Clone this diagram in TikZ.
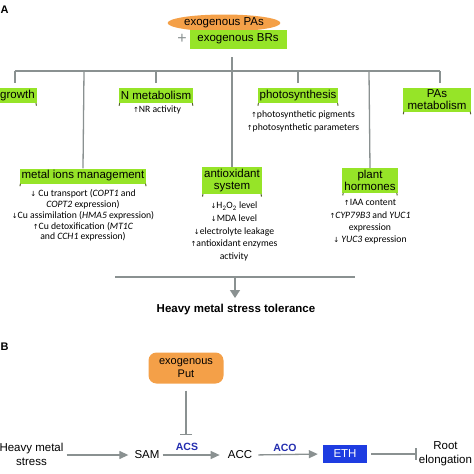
\documentclass[tikz,border=0pt]{standalone}
\usepackage{fontspec}
\setmainfont{Liberation Sans}
\newfontfamily\descfont{Carlito}
\newfontfamily\arrfont{DejaVu Sans}
\usetikzlibrary{arrows.meta,shapes.geometric}
\definecolor{lime}{RGB}{150,228,40}
\definecolor{orng}{RGB}{244,160,72}
\definecolor{lgray}{RGB}{138,145,145}
\definecolor{ethblue}{RGB}{30,60,225}
\definecolor{enzblue}{RGB}{35,45,175}
\definecolor{tickcol}{RGB}{85,95,45}
\newcommand{\upa}{{\arrfont\fontsize{7}{7}\selectfont ↑}}
\newcommand{\dna}{{\arrfont\fontsize{7}{7}\selectfont ↓}}
\tikzset{
  greenbox/.style={fill=lime, inner xsep=2pt, inner ysep=1.5pt, minimum height=15pt,
    font=\fontsize{11.5}{13}\selectfont, align=center},
  desc/.style={font=\descfont\fontsize{9.7}{11.5}\selectfont, align=center, inner sep=0pt},
  conn/.style={draw=lgray, line width=1.3pt},
  arr/.style={conn, -{Triangle[length=9pt,width=8pt]}},
  inh/.style={conn, -{Bar[width=12pt]}},
  btext/.style={font=\fontsize{11.5}{14}\selectfont, align=center, inner sep=0pt},
  enz/.style={font=\bfseries\fontsize{10.5}{12}\selectfont, text=enzblue, inner sep=0pt},
  panel/.style={font=\bfseries\fontsize{11}{12}\selectfont, inner sep=0pt, anchor=west},
  cornertick/.style={draw=tickcol, line width=1pt}
}
\begin{document}
\begin{tikzpicture}[x=1pt,y=-1pt]
\useasboundingbox (0,0) rectangle (474,474);
\begin{scope}
\clip (0,0) rectangle (474,474);
% panel labels
\node[panel] (labA) at (0.5,10) {A};
\node[panel] (labB) at (0.5,347) {B};

% top treatments
\node[ellipse, fill=orng, minimum width=98pt, minimum height=17pt, inner sep=0pt,
  font=\fontsize{11.5}{13}\selectfont] (pas) at (224,23) {exogenous PAs};
\node[text=lgray, font=\fontsize{16}{16}\selectfont, inner sep=0pt] (plus) at (182,39) {+};
\node[greenbox, minimum width=97pt, minimum height=19pt] (brs) at (238,39) {exogenous BRs};

% distribution bar
\coordinate (top) at (232,57);
\coordinate (jc) at (232,71);
\coordinate (j1) at (15,71);
\coordinate (j2) at (84,71);
\coordinate (j3) at (156,71);
\coordinate (j5) at (298,71);
\coordinate (j6) at (369,71);
\coordinate (j7) at (440,71);
\draw[conn] (top) -- (jc);
\draw[conn] (j1) -- (j7);

% first row boxes
\node[greenbox] (growth) at (17.5,95.5) {growth};
\node[greenbox] (nmet) at (156,95.5) {N metabolism};
\node[greenbox] (photo) at (298,95.5) {photosynthesis};
\node[greenbox, minimum width=68pt, inner ysep=1.5pt] (pasmet) at (437,100) {PAs\\[-1pt]metabolism};

\draw[conn] (j1) -- ++(0,12) coordinate (e1);
\draw[conn] (j3) -- ++(0,12) coordinate (e3);
\draw[conn] (j5) -- ++(0,12) coordinate (e5);
\draw[conn] (j7) -- ++(0,12) coordinate (e7);

\node[desc] (nmetd) at (157,110) {\upa NR activity};
\node[desc, font=\descfont\fontsize{9.7}{13}\selectfont, anchor=north] (photod) at (303,111)
  {\upa photosynthetic pigments\\\upa photosynthetic parameters};

% second row boxes
\node[greenbox] (metal) at (83,176) {metal ions management};
\node[greenbox, inner ysep=2pt] (antiox) at (232,180.5) {antioxidant\\[-1pt]system};
\node[greenbox, inner ysep=2pt] (horm) at (370,180.5) {plant\\[-1pt]hormones};

\draw[conn] (j2) -- (metal.north);
\draw[conn] (jc) -- (antiox.north);
\draw[conn] (j6) -- (horm.north);

\foreach \b in {growth,nmet,photo,pasmet,metal,antiox,horm} {
  \draw[cornertick] ([xshift=1pt]\b.south west) -- ++(-0.5pt,-2.5pt);
  \draw[cornertick] ([xshift=-1pt]\b.south east) -- ++(0.5pt,-2.5pt);
}

\node[desc, font=\descfont\fontsize{9.7}{10.8}\selectfont, anchor=north] (metald) at (83,189.5)
  {\dna\ Cu transport (\textit{COPT1} and\\\textit{COPT2} expression)\\
   \dna Cu assimilation (\textit{HMA5} expression)\\
   \upa Cu detoxification (\textit{MT1C}\\and \textit{CCH1} expression)};
\node[desc, font=\descfont\fontsize{9.7}{12.6}\selectfont, anchor=north] (antioxd) at (234,202)
  {\dna H\textsubscript{2}O\textsubscript{2} level\\\dna MDA level\\\dna electrolyte leakage\\
   \upa antioxidant enzymes\\activity};
\node[desc, font=\descfont\fontsize{9.7}{12.3}\selectfont, anchor=north] (hormd) at (370,199.5)
  {\upa IAA content\\\upa\textit{CYP79B3} and \textit{YUC1}\\expression\\\dna\ \textit{YUC3} expression};

% collecting bar
\coordinate (b1) at (115,277);
\coordinate (b2) at (355,277);
\coordinate (bc) at (235,277);
\coordinate (bend) at (235,298);
\draw[conn] (b1) -- (b2);
\node[font=\bfseries\fontsize{11.5}{13}\selectfont, inner sep=0pt] (tol) at (236,310) {Heavy metal stress tolerance};
\draw[conn, -{Triangle[length=8pt,width=10pt]}] (bc) -- (bend);

% panel B
\node[fill=orng, rounded corners=8pt, minimum width=75pt, minimum height=31pt, inner sep=0pt,
  align=center, font=\fontsize{11}{13}\selectfont] (put) at (186,368) {exogenous\\Put};
\coordinate (acsbar) at (186,435);
\draw[inh] ([yshift=-7pt]put.south) -- (acsbar);

\node[btext] (hms) at (31.5,454) {Heavy metal\\stress};
\node[btext] (sam) at (147,455) {SAM};
\node[btext] (acc) at (240,455) {ACC};
\node[fill=ethblue, text=white, minimum width=44pt, minimum height=18pt, inner sep=0pt,
  font=\fontsize{11.5}{13}\selectfont] (eth) at (345,454) {ETH};
\node[btext] (root) at (445.5,454) {Root\\elongation};

\draw[arr, shorten <=3pt, shorten >=6pt] (hms.east |- sam.west) -- (sam.west);
\draw[arr, shorten <=3pt, shorten >=8pt] (sam.east) -- (acc.west);
\draw[arr, shorten <=6pt, shorten >=5pt] (acc.east) -- (eth.west);
\draw[inh, shorten <=4pt, shorten >=2pt] (eth.east) -- (eth.east -| root.west);

\node[enz] (acs) at (187,447) {ACS};
\node[enz] (aco) at (285,448) {ACO};
\end{scope}
\end{tikzpicture}
\end{document}
